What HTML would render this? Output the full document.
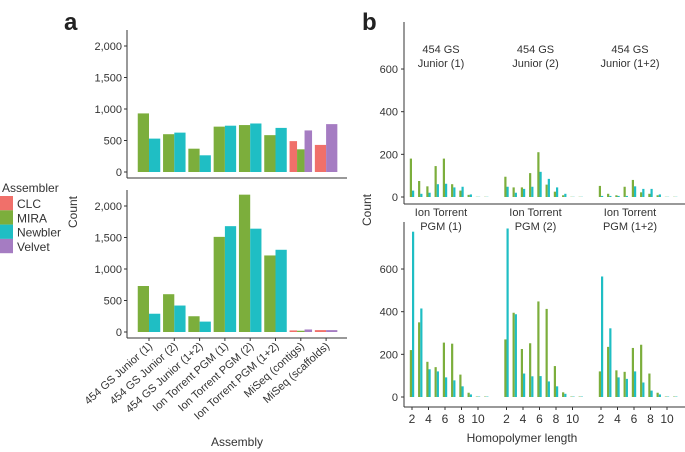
<!DOCTYPE html>
<html><head><meta charset="utf-8"><style>
html,body{margin:0;padding:0;background:#fff}
svg{display:block;font-family:"Liberation Sans",sans-serif}
</style></head><body>
<svg id="c" width="685" height="452" viewBox="0 0 685 452"></svg>
<script>
// Panel a data
const assemblies = ["454 GS Junior (1)","454 GS Junior (2)","454 GS Junior (1+2)","Ion Torrent PGM (1)","Ion Torrent PGM (2)","Ion Torrent PGM (1+2)","MiSeq (contigs)","MiSeq (scaffolds)"];
const assemblers = ["CLC","MIRA","Newbler","Velvet"];
const clcTop = [null,null,null,null,null,null,490,430];
const miraTop = [930,600,370,720,745,585,360,null];
const newblerTop = [530,625,265,735,770,700,null,null];
const velvetTop = [null,null,null,null,null,null,660,760];
const clcBot = [null,null,null,null,null,null,25,30];
const miraBot = [730,600,250,1510,2180,1215,20,null];
const newblerBot = [290,420,165,1680,1640,1305,null,null];
const velvetBot = [null,null,null,null,null,null,40,30];
const aTicks = [0,500,1000,1500,2000];
const aTickLabels = ["0","500","1,000","1,500","2,000"];
// Panel b data (lengths 2..11)
const lengths = [2,3,4,5,6,7,8,9,10,11];
const facetTitles = [["454 GS","Junior (1)"],["454 GS","Junior (2)"],["454 GS","Junior (1+2)"],["Ion Torrent","PGM (1)"],["Ion Torrent","PGM (2)"],["Ion Torrent","PGM (1+2)"]];
const miraHp = [
 [180,75,50,145,180,60,30,10,1,1],
 [95,45,45,112,210,58,25,8,1,1],
 [52,15,8,48,80,22,15,8,1,1],
 [220,350,165,140,255,250,105,20,2,2],
 [270,395,225,252,448,413,145,22,2,2],
 [120,235,125,118,230,245,110,20,2,2]];
const newblerHp = [
 [30,15,20,60,62,45,48,12,1,1],
 [48,20,38,48,118,85,45,15,1,1],
 [5,5,5,5,50,38,38,12,1,1],
 [775,415,130,120,92,78,50,12,2,2],
 [790,388,110,97,98,73,50,15,2,2],
 [565,322,92,85,120,68,30,12,2,2]];
const bTicks = [0,200,400,600];
const bXTicks = [2,4,6,8,10];

const COL = {CLC:"#f0706a",MIRA:"#7cae3c",Newbler:"#1fbec4",Velvet:"#a57cc2"};
const svg = document.getElementById('c');
const NS = "http://www.w3.org/2000/svg";
function mk(tag, attrs, parent, text){
  const e = document.createElementNS(NS, tag);
  for (const k in attrs) e.setAttribute(k, attrs[k]);
  if (text !== undefined) e.textContent = text;
  (parent||svg).appendChild(e);
  return e;
}
const AX = "#333";
// panel letters
let t = mk('text',{x:64,y:30,'font-size':24,'font-weight':'bold',fill:'#222'},svg,'a');
 
t = mk('text',{x:362,y:30,'font-size':24,'font-weight':'bold',fill:'#222'},svg,'b');
 

// ---- Panel a ----
const aLeft = 127, aRight = 347;
const gx0 = 149, gstep = 25.3, gw = 22.5;
function drawA(top0, name, series){
  const ya = v => top0 - v*0.063;
  const g = mk('g',{});
   
  mk('line',{x1:aLeft,y1:top0-142,x2:aLeft,y2:top0+6,stroke:AX,'stroke-width':1},g);
  mk('line',{x1:aLeft,y1:top0+6,x2:aRight,y2:top0+6,stroke:AX,'stroke-width':1},g);
  aTicks.forEach((v,i)=>{
    mk('line',{x1:aLeft-3,y1:ya(v),x2:aLeft,y2:ya(v),stroke:AX},g);
    const tl = mk('text',{x:aLeft-5,y:ya(v)+4,'text-anchor':'end','font-size':11,fill:'#333'},g,aTickLabels[i]);
     
  });
  assemblies.forEach((a,i)=>{
    const present = series.filter(s=>s.v[i]!==null);
    const bw = gw/present.length;
    const cx = gx0 + i*gstep;
    present.forEach((s,j)=>{
      const v = s.v[i];
      const r = mk('rect',{x:cx-gw/2+j*bw,y:ya(v),width:bw,height:Math.max(0,top0-ya(v)),fill:COL[s.n]},g);
      
      
    });
  });
}
drawA(172,'panel-a-top',[{n:"CLC",v:clcTop},{n:"MIRA",v:miraTop},{n:"Newbler",v:newblerTop},{n:"Velvet",v:velvetTop}]);
drawA(332,'panel-a-bottom',[{n:"CLC",v:clcBot},{n:"MIRA",v:miraBot},{n:"Newbler",v:newblerBot},{n:"Velvet",v:velvetBot}]);
assemblies.forEach((a,i)=>{
  const cx = gx0 + i*gstep;
  mk('line',{x1:cx,y1:338,x2:cx,y2:341,stroke:AX});
  const tl = mk('text',{x:cx+4,y:347,'text-anchor':'end','font-size':11,fill:'#333',transform:`rotate(-42 ${cx+4} 347)`},svg,a);
   
});
t = mk('text',{x:237,y:446,'text-anchor':'middle','font-size':12,fill:'#333'},svg,'Assembly');
 
t = mk('text',{x:0,y:0,'text-anchor':'middle','font-size':12,fill:'#333',transform:'translate(77,212) rotate(-90)'},svg,'Count');
 
// legend
const lg = mk('g',{});
 
mk('text',{x:2,y:192,'font-size':12,fill:'#333'},lg,'Assembler');
assemblers.forEach((n,i)=>{
  const e = mk('g',{},lg);
  
  
  mk('rect',{x:0,y:196+i*14.3,width:13,height:14.3,fill:COL[n]},e);
  mk('text',{x:17,y:208+i*14.3,'font-size':12,fill:'#333'},e,n);
});

// ---- Panel b ----
const bLeft = 404, bRight = 685;
const unit = 8.25, f0 = 412, fstep = 94.5;
function drawB(base0, row, name){
  const yb = v => base0 - v*0.2133;
  const g = mk('g',{});
   
  const axisY = base0 + (row===0?7:10);
  mk('line',{x1:bLeft,y1:base0-175,x2:bLeft,y2:axisY,stroke:AX},g);
  mk('line',{x1:bLeft,y1:axisY,x2:bRight,y2:axisY,stroke:AX},g);
  bTicks.forEach(v=>{
    mk('line',{x1:bLeft-3,y1:yb(v),x2:bLeft,y2:yb(v),stroke:AX},g);
    const tl = mk('text',{x:bLeft-6,y:yb(v)+4,'text-anchor':'end','font-size':11,fill:'#333'},g,String(v));
     
  });
  for (let f=0; f<3; f++){
    const idx = row*3+f;
    const xb = l => f0 + f*fstep + (l-2)*unit;
    const tt = facetTitles[idx];
    const ty = row===0 ? 53 : 216;
    const ft = mk('text',{x:xb(6)-4,y:ty,'text-anchor':'middle','font-size':11,fill:'#333'},g);
     
    mk('tspan',{x:xb(6)-4,dy:0},ft,tt[0]);
    mk('tspan',{x:xb(6)-4,dy:14},ft,tt[1]);
    lengths.forEach((l,k)=>{
      const vm = miraHp[idx][k], vn = newblerHp[idx][k];
      let r = mk('rect',{x:xb(l)-2.2,y:yb(vm),width:2.2,height:base0-yb(vm),fill:COL.MIRA},g);
       
      r = mk('rect',{x:xb(l),y:yb(vn),width:2.2,height:base0-yb(vn),fill:COL.Newbler},g);
       
    });
    if (row===1){
      bXTicks.forEach(l=>{
        mk('line',{x1:xb(l),y1:axisY,x2:xb(l),y2:axisY+3,stroke:AX},g);
        const tl = mk('text',{x:xb(l),y:axisY+16,'text-anchor':'middle','font-size':12,fill:'#333'},g,String(l));
         
      });
    }
  }
}
drawB(197,0,'panel-b-top');
drawB(397,1,'panel-b-bottom');
t = mk('text',{x:522,y:442,'text-anchor':'middle','font-size':12,fill:'#333'},svg,'Homopolymer length');
 
t = mk('text',{x:0,y:0,'text-anchor':'middle','font-size':12,fill:'#333',transform:'translate(371,210) rotate(-90)'},svg,'Count');
 
</script>
</body></html>
